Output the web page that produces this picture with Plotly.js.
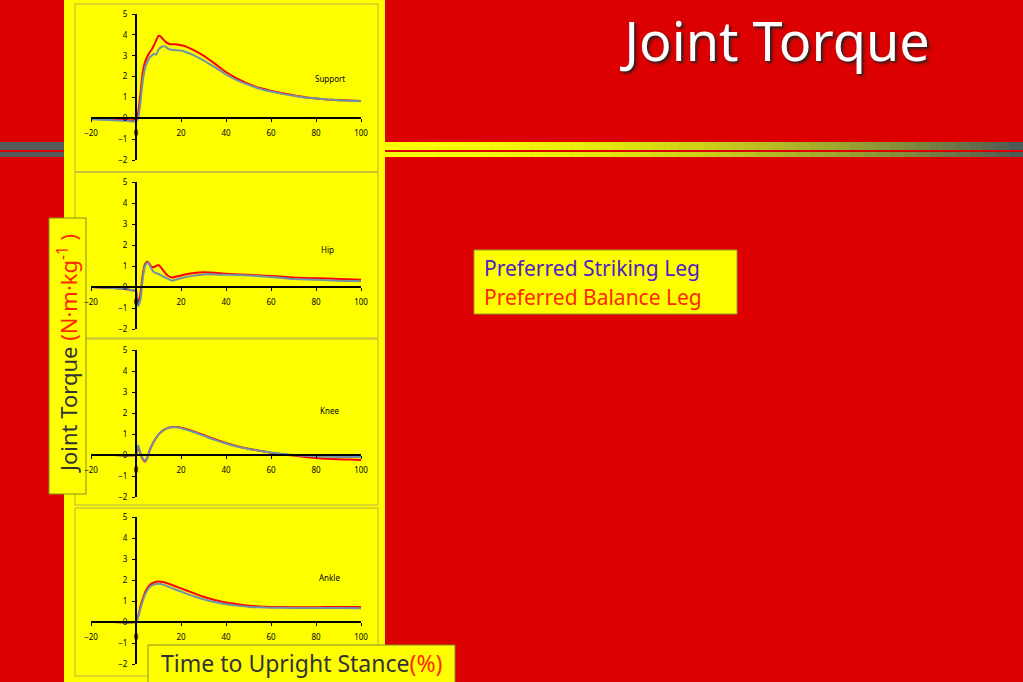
<!DOCTYPE html>
<html>
<head>
<meta charset="utf-8">
<script src="https://cdn.plot.ly/plotly-3.0.1.min.js"></script>
<style>html,body{margin:0;padding:0;background:#dc0000;}#chart{width:1023px;height:682px;}</style>
</head>
<body>
<div id="chart"></div>
<script>
// ---------- data ----------
const panelNames = ['Support', 'Hip', 'Knee', 'Ankle'];
const seriesNames = ['Preferred Striking Leg', 'Preferred Balance Leg'];
const xTicks = [-20, 0, 20, 40, 60, 80, 100];
const yTicks = [-2, -1, 0, 1, 2, 3, 4, 5];

const supportX = [-20,-10,-5,-2,0,1,2,3,4,5,6,7,8,9,10,11,12,13,14,15,17,20,22,25,30,35,40,45,50,55,60,65,70,75,80,85,90,95,100];
const supportBalance = [-0.02,-0.05,-0.08,-0.1,-0.05,0.3,1.2,2.2,2.7,2.95,3.15,3.3,3.5,3.75,3.95,3.92,3.8,3.68,3.6,3.55,3.55,3.5,3.45,3.3,3.0,2.62,2.22,1.9,1.65,1.45,1.32,1.2,1.1,1.01,0.95,0.9,0.87,0.85,0.83];
const supportStriking = [-0.05,-0.1,-0.12,-0.15,-0.15,0.0,0.8,1.8,2.4,2.7,2.9,3.0,3.1,3.05,3.3,3.4,3.45,3.45,3.35,3.3,3.27,3.25,3.18,3.05,2.78,2.45,2.1,1.82,1.6,1.42,1.28,1.17,1.08,1.0,0.95,0.9,0.87,0.84,0.82];

const hipX = [-20,-10,-5,-2,0,0.5,1,2,3,4,5,6,7,8,9,10,11,12,14,16,18,20,25,30,35,40,50,60,70,80,90,100];
const hipBalance = [0,-0.05,-0.1,-0.15,-0.2,-0.5,-0.85,-0.3,0.6,1.1,1.2,1.1,0.95,0.95,1.0,1.05,0.95,0.8,0.55,0.45,0.5,0.55,0.65,0.7,0.68,0.63,0.58,0.52,0.45,0.42,0.38,0.35];
const hipStriking = [0,-0.05,-0.1,-0.15,-0.2,-0.6,-0.9,-0.6,0.4,1.0,1.15,1.05,0.85,0.7,0.66,0.62,0.56,0.5,0.4,0.3,0.36,0.42,0.53,0.6,0.6,0.58,0.55,0.48,0.38,0.35,0.3,0.27];

const kneeX = [-20,-10,0,0.5,1,2,3,4,5,6,8,10,12,14,16,18,20,25,30,35,40,45,50,55,60,65,70,75,80,85,90,95,100];
const kneeBalance = [0,0,0,0.25,0.35,0.05,-0.2,-0.32,-0.15,0.2,0.65,0.97,1.17,1.28,1.33,1.33,1.3,1.15,0.95,0.75,0.57,0.42,0.3,0.2,0.11,0.04,-0.03,-0.09,-0.14,-0.18,-0.2,-0.22,-0.24];
const kneeStriking = [0,0,0,0.3,0.45,0.1,-0.15,-0.28,-0.12,0.22,0.66,0.97,1.17,1.28,1.32,1.32,1.28,1.12,0.92,0.72,0.55,0.4,0.29,0.2,0.12,0.06,0.0,-0.04,-0.06,-0.08,-0.09,-0.1,-0.1];

const ankleX = [-20,-10,0,1,2,3,4,5,6,8,10,12,15,20,25,30,35,40,45,50,55,60,70,80,90,100];
const ankleBalance = [0,0,0,0.3,0.75,1.1,1.4,1.6,1.75,1.88,1.93,1.9,1.8,1.6,1.4,1.2,1.05,0.93,0.85,0.78,0.74,0.72,0.7,0.7,0.72,0.72];
const ankleStriking = [0,0,0,0.25,0.65,1.0,1.3,1.5,1.65,1.78,1.82,1.78,1.65,1.45,1.25,1.08,0.95,0.85,0.78,0.72,0.7,0.68,0.67,0.67,0.67,0.66];

// ---------- layout helpers ----------
const W = 1023, H = 682;
const FONT = '"Noto Sans", "DejaVu Sans", sans-serif';
const px = v => v / W;
const py = v => 1 - v / H;
const RED = '#ff0000', BLUE = '#7093a6';
const X_RANGE = [-20, 100], Y_RANGE = [-2, 5];

const panels = [
  {x: supportX, bal: supportBalance, str: supportStriking, top: 14, bottom: 160, box: [4, 172], label: [86, 1.9]},
  {x: hipX, bal: hipBalance, str: hipStriking, top: 182, bottom: 329, box: [172, 338], label: [85, 1.8]},
  {x: kneeX, bal: kneeBalance, str: kneeStriking, top: 350, bottom: 497, box: [339, 505], label: [86, 2.1]},
  {x: ankleX, bal: ankleBalance, str: ankleStriking, top: 517, bottom: 664, box: [508, 676], label: [86, 2.1]}
];
const xDom = [px(91), px(361)];
const yAxisPos = xDom[0] + (0 - X_RANGE[0]) / (X_RANGE[1] - X_RANGE[0]) * (xDom[1] - xDom[0]);

const data = [];
const layout = {
  width: W, height: H,
  margin: {l: 0, r: 0, t: 0, b: 0},
  paper_bgcolor: '#dc0000',
  plot_bgcolor: 'rgba(0,0,0,0)',
  showlegend: false,
  font: {family: FONT, color: '#000'},
  title: {
    text: 'Joint Torque', x: px(777), xanchor: 'center', xref: 'paper',
    y: py(42), yanchor: 'middle', yref: 'paper',
    font: {family: FONT, size: 54, color: '#ffffff', shadow: '2px 2px 3px #222'}
  },
  shapes: [], annotations: []
};

// background decoration
layout.shapes.push({type: 'rect', xref: 'paper', yref: 'paper', layer: 'below',
  x0: px(64), x1: px(385), y0: 0, y1: 1, fillcolor: '#ffff00', line: {width: 0}});
// stripes: left gray, right yellow-to-gray gradient
[[142, 150], [152, 157]].forEach(([a, b]) => {
  layout.shapes.push({type: 'rect', xref: 'paper', yref: 'paper', layer: 'below',
    x0: 0, x1: px(64), y0: py(b), y1: py(a), fillcolor: '#555a5a', line: {width: 0}});
  const n = 48, xs = 385, xe = 1023;
  for (let i = 0; i < n; i++) {
    const t = Math.pow((i + 0.5) / n, 1.8);
    const r = Math.round(255 + (74 - 255) * t), g = Math.round(255 + (88 - 255) * t), bl = Math.round(0 + 88 * t);
    layout.shapes.push({type: 'rect', xref: 'paper', yref: 'paper', layer: 'below',
      x0: px(xs + (xe - xs) * i / n), x1: px(xs + (xe - xs) * (i + 1) / n + 0.6),
      y0: py(b), y1: py(a), fillcolor: `rgb(${r},${g},${bl})`, line: {width: 0}});
  }
});

panels.forEach((p, i) => {
  const k = i === 0 ? '' : String(i + 1);
  const yd = [py(p.bottom), py(p.top)];
  const xAxisPos = yd[0] + (0 - Y_RANGE[0]) / (Y_RANGE[1] - Y_RANGE[0]) * (yd[1] - yd[0]);
  layout.shapes.push({type: 'rect', xref: 'paper', yref: 'paper', layer: 'below',
    x0: px(75), x1: px(378), y0: py(p.box[1]), y1: py(p.box[0]),
    fillcolor: 'rgba(0,0,0,0)', line: {color: '#b9b146', width: 1}});
  layout['xaxis' + k] = {
    domain: xDom, range: X_RANGE, anchor: 'free', position: xAxisPos,
    tickvals: xTicks, ticks: 'outside', ticklen: 3, tickcolor: '#000',
    showline: true, linecolor: '#000', linewidth: 2, showgrid: false, zeroline: false,
    tickfont: {size: 8, color: '#000', family: FONT}, ticklabelstandoff: 4, fixedrange: true
  };
  layout['yaxis' + k] = {
    domain: yd, range: Y_RANGE, anchor: 'free', position: yAxisPos,
    tickvals: yTicks, ticks: 'outside', ticklen: 3, tickcolor: '#000',
    showline: true, linecolor: '#000', linewidth: 2, showgrid: false, zeroline: false,
    tickfont: {size: 8, color: '#000', family: FONT}, ticklabelstandoff: 3, fixedrange: true
  };
  data.push({x: p.x, y: p.bal, type: 'scatter', mode: 'lines', name: seriesNames[1],
    xaxis: 'x' + k, yaxis: 'y' + k, line: {color: RED, width: 2, shape: 'spline', smoothing: 0.5}});
  data.push({x: p.x, y: p.str, type: 'scatter', mode: 'lines', name: seriesNames[0],
    xaxis: 'x' + k, yaxis: 'y' + k, line: {color: BLUE, width: 2, shape: 'spline', smoothing: 0.5}});
  layout.annotations.push({text: panelNames[i], xref: 'x' + k, yref: 'y' + k,
    x: p.label[0], y: p.label[1], xanchor: 'center', yanchor: 'middle',
    showarrow: false, font: {size: 8, color: '#000', family: FONT}});
});

// label boxes
layout.shapes.push({type: 'rect', xref: 'paper', yref: 'paper', layer: 'below',
  x0: px(49), x1: px(86), y0: py(494), y1: py(218), fillcolor: '#ffff00', line: {color: '#8a8a2a', width: 1}});
layout.shapes.push({type: 'rect', xref: 'paper', yref: 'paper', layer: 'below',
  x0: px(148), x1: px(455), y0: py(684), y1: py(645), fillcolor: '#ffff00', line: {color: '#8a8a2a', width: 1}});
layout.shapes.push({type: 'rect', xref: 'paper', yref: 'paper', layer: 'below',
  x0: px(474), x1: px(737), y0: py(314), y1: py(250), fillcolor: '#ffff00', line: {color: '#9a9a30', width: 1}});

layout.annotations.push({
  text: 'Joint Torque <span style="color:#ff2a00">(N·m·kg<sup>-1</sup> )</span>',
  xref: 'paper', yref: 'paper', x: px(67), y: py(354), xanchor: 'center', yanchor: 'middle', textangle: -90,
  showarrow: false, font: {size: 22, color: '#333333', family: FONT}
});
layout.annotations.push({
  text: 'Time to Upright Stance<span style="color:#ff2a00">(%)</span>',
  xref: 'paper', yref: 'paper', x: px(301), y: py(663), xanchor: 'center', yanchor: 'middle',
  showarrow: false, font: {size: 23, color: '#333333', family: FONT}
});
layout.annotations.push({
  text: seriesNames[0], xref: 'paper', yref: 'paper', x: px(482), y: py(268),
  xanchor: 'left', yanchor: 'middle', showarrow: false, font: {size: 21, color: '#4f22c4', family: FONT}
});
layout.annotations.push({
  text: seriesNames[1], xref: 'paper', yref: 'paper', x: px(482), y: py(297),
  xanchor: 'left', yanchor: 'middle', showarrow: false, font: {size: 21, color: '#ff2a00', family: FONT}
});

Plotly.newPlot('chart', data, layout, {displayModeBar: false, staticPlot: true});
</script>
</body>
</html>
